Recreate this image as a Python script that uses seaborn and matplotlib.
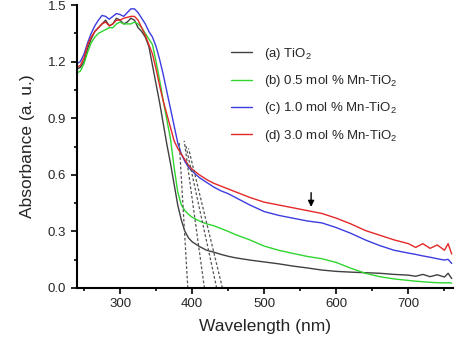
import numpy as np
import pandas as pd
import seaborn as sns
import matplotlib.pyplot as plt

# wavelength grid (nm)
wavelength = [240, 245, 250, 255, 260, 265, 270, 275, 280, 285, 290, 295, 300, 305, 310,
              315, 320, 325, 330, 335, 340, 345, 350, 355, 360, 365, 370, 375, 380, 385,
              390, 395, 400, 410, 420, 430, 440, 450, 460, 480, 500, 520, 540, 560, 580,
              600, 620, 640, 660, 680, 700, 710, 720, 730, 740, 750, 755, 760]

abs_tio2 = [1.16, 1.17, 1.20, 1.27, 1.32, 1.36, 1.38, 1.40, 1.42, 1.39, 1.40, 1.43, 1.42, 1.40, 1.41,
            1.43, 1.42, 1.38, 1.36, 1.33, 1.28, 1.18, 1.08, 0.98, 0.87, 0.76, 0.66, 0.55, 0.44, 0.36,
            0.30, 0.265, 0.245, 0.22, 0.20, 0.19, 0.178, 0.168, 0.16, 0.148, 0.138, 0.128, 0.116, 0.106, 0.095,
            0.088, 0.084, 0.081, 0.078, 0.072, 0.068, 0.062, 0.072, 0.060, 0.070, 0.058, 0.078, 0.050]

abs_mn05 = [1.14, 1.15, 1.19, 1.25, 1.30, 1.33, 1.35, 1.36, 1.37, 1.38, 1.38, 1.40, 1.41, 1.40, 1.40,
            1.40, 1.41, 1.40, 1.38, 1.35, 1.32, 1.29, 1.20, 1.10, 0.99, 0.89, 0.79, 0.64, 0.51, 0.44,
            0.41, 0.39, 0.375, 0.355, 0.34, 0.33, 0.315, 0.30, 0.283, 0.255, 0.222, 0.20, 0.183, 0.167, 0.155,
            0.135, 0.105, 0.078, 0.060, 0.048, 0.040, 0.036, 0.033, 0.030, 0.028, 0.027, 0.028, 0.026]

abs_mn10 = [1.19, 1.20, 1.24, 1.30, 1.35, 1.39, 1.42, 1.445, 1.44, 1.425, 1.44, 1.455, 1.45, 1.44, 1.46,
            1.48, 1.48, 1.46, 1.43, 1.40, 1.36, 1.33, 1.28, 1.21, 1.13, 1.04, 0.95, 0.86, 0.77, 0.71,
            0.67, 0.64, 0.62, 0.585, 0.56, 0.535, 0.515, 0.50, 0.48, 0.44, 0.405, 0.385, 0.37, 0.355, 0.345,
            0.32, 0.29, 0.255, 0.225, 0.20, 0.185, 0.178, 0.17, 0.163, 0.155, 0.148, 0.152, 0.13]

abs_mn30 = [1.17, 1.18, 1.22, 1.29, 1.33, 1.36, 1.38, 1.40, 1.41, 1.39, 1.40, 1.42, 1.42, 1.43, 1.435,
            1.44, 1.44, 1.42, 1.38, 1.34, 1.29, 1.24, 1.16, 1.07, 0.99, 0.92, 0.85, 0.78, 0.74, 0.71,
            0.68, 0.65, 0.63, 0.60, 0.575, 0.555, 0.54, 0.525, 0.51, 0.48, 0.455, 0.44, 0.425, 0.41, 0.395,
            0.37, 0.34, 0.305, 0.28, 0.255, 0.235, 0.215, 0.235, 0.21, 0.228, 0.20, 0.235, 0.18]

labels = ['(a) TiO$_2$', '(b) 0.5 mol % Mn-TiO$_2$',
          '(c) 1.0 mol % Mn-TiO$_2$', '(d) 3.0 mol % Mn-TiO$_2$']
colors = ['#404040', '#30d530', '#3c3ce0', '#e42828']

# band-gap tangent lines: x-intercept and upper end point
tangent_x0 = [394, 417, 434, 442]
tangent_x1 = [382, 389, 391, 395]
tangent_y1 = [0.78, 0.78, 0.76, 0.74]

arrow_x = 565
arrow_y = [0.52, 0.415]

df = pd.DataFrame({
    'wavelength': wavelength * 4,
    'absorbance': abs_tio2 + abs_mn05 + abs_mn10 + abs_mn30,
    'sample': np.repeat(labels, len(wavelength)),
})

sns.set_style('ticks')
plt.rcParams['font.family'] = ['Liberation Sans', 'DejaVu Sans']
plt.rcParams['mathtext.default'] = 'regular'

fig = plt.figure(figsize=(4.74, 3.38), dpi=100)
ax = fig.add_axes([0.162, 0.148, 0.794, 0.837])

sns.lineplot(data=df, x='wavelength', y='absorbance', hue='sample', hue_order=labels,
             palette=dict(zip(labels, colors)), lw=1, ax=ax)

for x0, x1, y1 in zip(tangent_x0, tangent_x1, tangent_y1):
    ax.plot([x0, x1], [0, y1], color='#555555', lw=0.9, ls=(0, (2.2, 1.6)))

ax.annotate('', xy=(arrow_x, arrow_y[1]), xytext=(arrow_x, arrow_y[0]),
            arrowprops=dict(arrowstyle='-|>', color='black', lw=1, mutation_scale=9))

ax.set_xlim(240, 762)
ax.set_ylim(0, 1.5)
ax.set_xticks([300, 400, 500, 600, 700])
ax.set_xticks([250, 350, 450, 550, 650, 750], minor=True)
ax.set_yticks([0.0, 0.3, 0.6, 0.9, 1.2, 1.5])
ax.set_yticks([0.15, 0.45, 0.75, 1.05, 1.35], minor=True)
ax.yaxis.set_major_formatter(plt.FormatStrFormatter('%.1f'))
ax.tick_params(which='major', direction='out', length=4, width=1.2, labelsize=9.5, color='black')
ax.tick_params(which='minor', direction='out', length=2.5, width=1.2, color='black')
for s in ['top', 'right']:
    ax.spines[s].set_visible(False)
for s in ['left', 'bottom']:
    ax.spines[s].set_linewidth(1.5)
    ax.spines[s].set_color('black')

ax.set_xlabel('Wavelength (nm)', fontsize=12.5, labelpad=6)
ax.set_ylabel('Absorbance (a. u.)', fontsize=12.5, labelpad=9)

handles, labs = ax.get_legend_handles_labels()
ax.legend(handles, labs, loc='upper left', bbox_to_anchor=(0.487, 0.864),
          bbox_transform=fig.transFigure, frameon=False, fontsize=9.5,
          handlelength=1.6, handletextpad=0.9, labelspacing=0.85,
          borderpad=0, borderaxespad=0)

fig.savefig('out.png', dpi=100)
